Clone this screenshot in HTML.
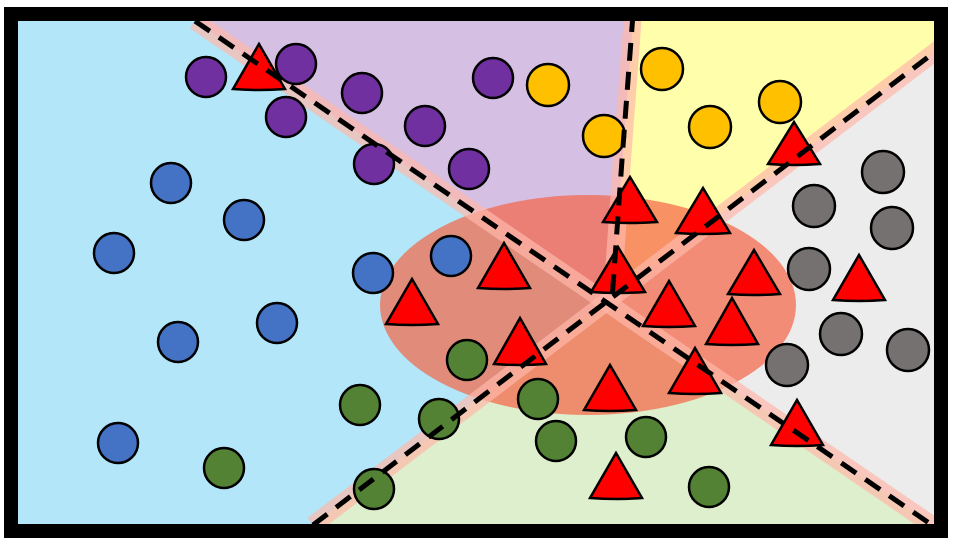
<!DOCTYPE html>
<html><head><meta charset="utf-8"><style>
html,body{margin:0;padding:0;background:#fff;width:953px;height:545px;overflow:hidden}
</style></head><body>
<svg width="953" height="545" viewBox="0 0 953 545" xmlns="http://www.w3.org/2000/svg">
<defs><clipPath id="c"><rect x="18" y="21" width="916" height="504"/></clipPath></defs>
<g clip-path="url(#c)">
<rect x="18" y="21" width="916" height="504" fill="#b2e6f8"/>
<polygon points="195,21 633,21 612,300 605,302" fill="#d5bfe3"/>
<polygon points="633,21 934,21 934,52 605,302 612,300" fill="#ffffab"/>
<polygon points="934,52 934,525 932,525 605,302" fill="#ececec"/>
<polygon points="605,302 932,525 313,525" fill="#ddefcc"/>
<ellipse cx="588" cy="305" rx="208" ry="110" fill="rgb(245,100,70)" fill-opacity="0.7"/>
<g stroke="#ffb8aa" stroke-opacity="0.7" stroke-width="18" fill="none">
<line x1="195" y1="21" x2="932" y2="525"/>
<line x1="313" y1="525" x2="940" y2="48"/>
<path d="M633 14 L622 160 L612 300"/>
</g>
<g stroke="#000" stroke-width="2.5">
<g fill="#7030a0">
<circle cx="206" cy="77" r="20"/><circle cx="296" cy="64" r="20"/><circle cx="286" cy="117" r="20"/><circle cx="362" cy="93" r="20"/><circle cx="425" cy="126" r="20"/><circle cx="374" cy="164" r="20"/><circle cx="469" cy="169" r="20"/><circle cx="493" cy="78" r="20"/>
</g>
<g fill="#ffc000">
<circle cx="548" cy="85" r="21"/><circle cx="662" cy="69" r="21"/><circle cx="604" cy="136" r="21"/><circle cx="710" cy="127" r="21"/><circle cx="780" cy="102" r="21"/>
</g>
<g fill="#4472c4">
<circle cx="171" cy="183" r="20"/><circle cx="244" cy="220" r="20"/><circle cx="114" cy="253" r="20"/><circle cx="178" cy="342" r="20"/><circle cx="277" cy="323" r="20"/><circle cx="373" cy="273" r="20"/><circle cx="451" cy="256" r="20"/><circle cx="118" cy="443" r="20"/>
</g>
<g fill="#548235">
<circle cx="224" cy="468" r="20"/><circle cx="360" cy="405" r="20"/><circle cx="467" cy="360" r="20"/><circle cx="439" cy="419" r="20"/><circle cx="538" cy="399" r="20"/><circle cx="556" cy="441" r="20"/><circle cx="646" cy="437" r="20"/><circle cx="709" cy="487" r="20"/><circle cx="374" cy="489" r="20"/>
</g>
<g fill="#767171">
<circle cx="883" cy="172" r="21"/><circle cx="814" cy="206" r="21"/><circle cx="892" cy="228" r="21"/><circle cx="809" cy="269" r="21"/><circle cx="841" cy="334" r="21"/><circle cx="908" cy="350" r="21"/><circle cx="787" cy="365" r="21"/>
</g>
<g fill="#ff0000" stroke-linejoin="miter">
<path d="M259 44 L285 89 Q259 91 233 89 Z"/>
<path d="M794 122 L820 164 Q794 166 768 164 Z"/>
<path d="M630 177 L657 222 Q630 224 603 222 Z"/>
<path d="M703 188 L730 233 Q703 235 676 233 Z"/>
<path d="M504 243 L530 288 Q504 290 478 288 Z"/>
<path d="M618 247 L645 292 Q618 294 591 292 Z"/>
<path d="M754 250 L780 294 Q754 296 728 294 Z"/>
<path d="M859 255 L885 300 Q859 302 833 300 Z"/>
<path d="M412 279 L438 324 Q412 326 386 324 Z"/>
<path d="M669 281 L695 326 Q669 328 643 326 Z"/>
<path d="M732 298 L758 344 Q732 346 706 344 Z"/>
<path d="M520 318 L546 364 Q520 366 494 364 Z"/>
<path d="M695 348 L721 393 Q695 395 669 393 Z"/>
<path d="M610 365 L636 410 Q610 412 584 410 Z"/>
<path d="M797 400 L823 445 Q797 447 771 445 Z"/>
<path d="M616 453 L642 498 Q616 500 590 498 Z"/>
</g>
</g>
<g stroke="#000" stroke-width="5" stroke-dasharray="18,11" fill="none">
<line x1="195" y1="21" x2="932" y2="525"/>
<line x1="313" y1="525" x2="940" y2="48"/>
<path d="M633 14 L622 160 L612 300"/>
</g>
</g>
<rect x="11" y="14" width="930" height="517" fill="none" stroke="#000" stroke-width="14"/>
</svg>
</body></html>
